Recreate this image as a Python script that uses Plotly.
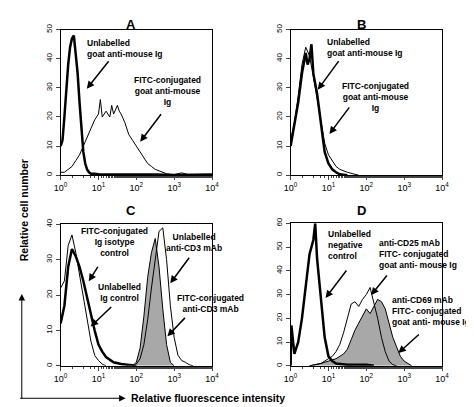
import plotly.graph_objects as go

W, H = 474, 407

# ---- data (x in log10 fluorescence decades, y = cell counts) ----
A_unl_x = [0,0.05,0.1,0.15,0.2,0.25,0.3,0.35,0.4,0.45,0.5,0.55,0.6,0.65,0.7,0.75,0.8,0.9,1.0,1.5,2.0,2.5,3.0,3.5,4.0]
A_unl_y = [10,12,20,30,38,44,47,48,42,35,25,15,8,4,2,1,0.5,0.5,0.3,0.2,0.3,0.2,0.1,0.1,0.2]
A_fitc_x = [0,0.1,0.2,0.3,0.4,0.5,0.6,0.7,0.8,0.9,1.0,1.05,1.1,1.2,1.3,1.35,1.4,1.5,1.55,1.6,1.7,1.8,1.9,2.0,2.1,2.2,2.3,2.4,2.5,2.6,2.7,2.8,2.9,3.0,3.2,3.4,4.0]
A_fitc_y = [1,1,2,3,5,7,10,13,16,19,21,26,20,22,20,24,21,24,22,21,18,14,12,10,8,6,4,3,2,1.5,1,0.5,0.3,0.2,0.8,0.1,0]

B_unl_x = [0,0.1,0.2,0.3,0.4,0.45,0.5,0.55,0.6,0.7,0.8,0.9,1.0,1.1,1.2,1.3,1.5]
B_unl_y = [10,17,25,35,42,38,40,45,35,28,17,8,4,2,1,0.3,0]
B_fitc_x = [0,0.1,0.2,0.3,0.4,0.5,0.6,0.7,0.8,0.9,1.0,1.1,1.2,1.3,1.5,1.7,1.8]
B_fitc_y = [12,18,27,38,44,41,34,26,18,11,7,5,3,2,1,0.3,0]

C_iso_x = [0,0.1,0.2,0.3,0.4,0.5,0.6,0.7,0.8,0.9,1.0,1.1,1.2,1.4,1.6,1.8,2.0]
C_iso_y = [12,17,28,33,31,28,24,19,14,10,6,4,2.5,1,0.5,0.3,0]
C_unlig_x = [0,0.1,0.2,0.3,0.4,0.5,0.6,0.7,0.8,0.9,1.0,1.1,1.2]
C_unlig_y = [22,24,34,37,32,26,20,13,7,3,1.5,0.5,0]
C_fcd3_x = [1.9,2.0,2.1,2.2,2.3,2.4,2.5,2.6,2.7,2.8,2.9,3.0]
C_fcd3_y = [0,1,5,14,25,32,36,28,16,6,1,0]
C_ucd3_x = [2.0,2.1,2.2,2.3,2.4,2.5,2.6,2.7,2.8,2.9,3.0,3.1,3.2,3.3,3.4,3.5]
C_ucd3_y = [0.5,2,6,13,22,30,38,39,30,17,8,3,1.5,1,0.3,0]

D_neg_x = [0,0.02,0.1,0.2,0.3,0.4,0.5,0.6,0.65,0.7,0.8,0.9,1.0,1.1,1.2,1.5,2.0,2.2]
D_neg_y = [0,17,5,10,20,33,47,53,60,45,28,12,4,2,1,0.5,0.5,0]
D_cd25_x = [0.5,0.8,1.0,1.1,1.2,1.3,1.4,1.5,1.6,1.7,1.8,1.9,2.0,2.1,2.2,2.3,2.4,2.5,2.6,2.7,2.8]
D_cd25_y = [0,1,3,4,6,9,14,20,26,27,25,28,30,33,27,20,12,6,2,0.5,0]
D_cd69_x = [0.5,0.8,1.0,1.2,1.4,1.5,1.6,1.7,1.8,1.9,2.0,2.1,2.2,2.3,2.4,2.5,2.6,2.7,2.8,2.9,3.0,3.1,3.2]
D_cd69_y = [0,1,2,3,5,7,11,15,18,21,24,22,25,28,27,24,18,12,8,4,2,1,0]

Y_MAX = {"A": 50, "B": 50, "C": 40, "D": 60}
Y_TICKS = {"A": [0,10,20,30,40,50], "B": [0,10,20,30,40,50], "C": [0,10,20,30,40], "D": [0,10,20,30,40,50,60]}
X_TICKVALS = [1, 10, 100, 1000, 10000]
X_TICKTEXT = ["10<sup>0</sup>", "10<sup>1</sup>", "10<sup>2</sup>", "10<sup>3</sup>", "10<sup>4</sup>"]

def px(x, y):
    return x / W, 1 - y / H

fig = go.Figure()

panels = {
    "A": ("", 47, 203, 16, 164),
    "B": ("2", 284, 440, 16, 164),
    "C": ("3", 47, 203, 214, 358),
    "D": ("4", 284, 440, 213, 358),
}

def add(p, xs, ys, width, fill=False):
    suf = panels[p][0]
    fig.add_trace(go.Scatter(
        x=[10 ** v for v in xs], y=ys, mode="lines",
        line=dict(color="black", width=width),
        fill="tozeroy" if fill else None,
        fillcolor="#a8a8a8" if fill else None,
        xaxis="x" + suf, yaxis="y" + suf, showlegend=False))

add("A", A_fitc_x, A_fitc_y, 1)
add("A", A_unl_x, A_unl_y, 2.5)
add("B", B_fitc_x, B_fitc_y, 1)
add("B", B_unl_x, B_unl_y, 2.5)
add("C", C_fcd3_x, C_fcd3_y, 1, fill=True)
add("C", C_ucd3_x, C_ucd3_y, 1)
add("C", C_unlig_x, C_unlig_y, 1)
add("C", C_iso_x, C_iso_y, 2.5)
add("D", D_cd69_x, D_cd69_y, 1, fill=True)
add("D", D_cd25_x, D_cd25_y, 1)
add("D", D_neg_x, D_neg_y, 2.5)

layout = dict(width=W, height=H, margin=dict(l=0, r=0, t=0, b=0),
              paper_bgcolor="white", plot_bgcolor="white",
              font=dict(family="Liberation Sans, Arial", color="black"))
for p, (suf, x0, x1, y0, y1) in panels.items():
    layout["xaxis" + suf] = dict(
        type="log", range=[0, 4], domain=[x0 / W, x1 / W], anchor="y" + suf,
        tickvals=X_TICKVALS, ticktext=X_TICKTEXT, ticks="outside", ticklen=4,
        minor=dict(ticks="outside", ticklen=2, showgrid=False),
        showline=True, linecolor="black", mirror=True, showgrid=False, zeroline=False,
        tickfont=dict(size=9))
    layout["yaxis" + suf] = dict(
        range=[0, Y_MAX[p]], domain=[1 - y1 / H, 1 - y0 / H], anchor="x" + suf,
        tickvals=Y_TICKS[p], ticks="outside", ticklen=4, tickangle=-90,
        showline=True, linecolor="black", mirror=True, showgrid=False, zeroline=False,
        tickfont=dict(size=8))
fig.update_layout(**layout)

ann = []
def text(x, y, s, size=8.5, align="left", xanchor="left", yanchor="top", angle=0):
    X, Y = px(x, y)
    ann.append(dict(x=X, y=Y, xref="paper", yref="paper", text=s, showarrow=False,
                    font=dict(size=size, family="Liberation Sans, Arial"), align=align,
                    xanchor=xanchor, yanchor=yanchor, textangle=angle))
def arrow(tx, ty, hx, hy, w=1.5, size=1.0):
    X, Y = px(hx, hy)
    ann.append(dict(x=X, y=Y, xref="paper", yref="paper", text="", showarrow=True,
                    ax=tx - hx, ay=ty - hy, arrowhead=2, arrowwidth=w, arrowsize=size,
                    arrowcolor="black"))

for t, x, y in [("A", 120, 1), ("B", 357, 1), ("C", 120, 190), ("D", 357, 190)]:
    text(x, y, "<b>%s</b>" % t, size=13, xanchor="center", align="center")

text(72, 22, "<b>Unlabelled<br>goat anti-mouse Ig</b>")
arrow(97, 47, 74, 76)
text(157, 60, "<b>FITC-conjugated<br>goat anti-mouse<br>Ig</b>", xanchor="center", align="center")
arrow(151, 101, 129, 130)

text(319, 21, "<b>Unlabelled<br>goat anti-mouse Ig</b>")
arrow(334, 47, 312, 77)
text(371, 66, "<b>FITC-conjugated<br>goat anti-mouse<br>Ig</b>", xanchor="center", align="center")
arrow(345, 94, 324, 122)

text(103, 214, "<b>FITC-conjugated<br>Ig isotype<br>control</b>", xanchor="center", align="center")
arrow(86, 256, 76, 272)
text(108, 271, "<b>Unlabelled<br>Ig control</b>", xanchor="center", align="center")
arrow(100, 297, 78, 318)
text(184, 220, "<b>Unlabelled<br>anti-CD3 mAb</b>", xanchor="center", align="center")
arrow(180, 247, 160, 274)
text(201, 282, "<b>FITC-conjugated<br>anti-CD3 mAb</b>", xanchor="center", align="center")
arrow(176, 308, 157, 328)

text(320, 217, "<b>Unlabelled<br>negative<br>control</b>")
arrow(342, 260, 320, 289)
text(373, 226, "<b>anti-CD25 mAb<br>FITC- conjugated<br>goat anti- mouse Ig</b>")
arrow(384, 265, 367, 286)
text(386, 284, "<b>anti-CD69 mAb<br>FITC- conjugated<br>goat anti- mouse Ig</b>")
arrow(417, 325, 395, 345)

text(9, 200, "<b>Relative cell number</b>", size=10.5, xanchor="center", yanchor="middle", angle=-90)
text(117, 391, "<b>Relative fluorescence intensity</b>", size=10.5, yanchor="middle")
arrow(7, 391, 7, 285, w=1, size=1.3)
arrow(7, 391, 114, 391, w=1, size=1.3)
fig.update_layout(annotations=ann)

fig.write_html("out.html")
